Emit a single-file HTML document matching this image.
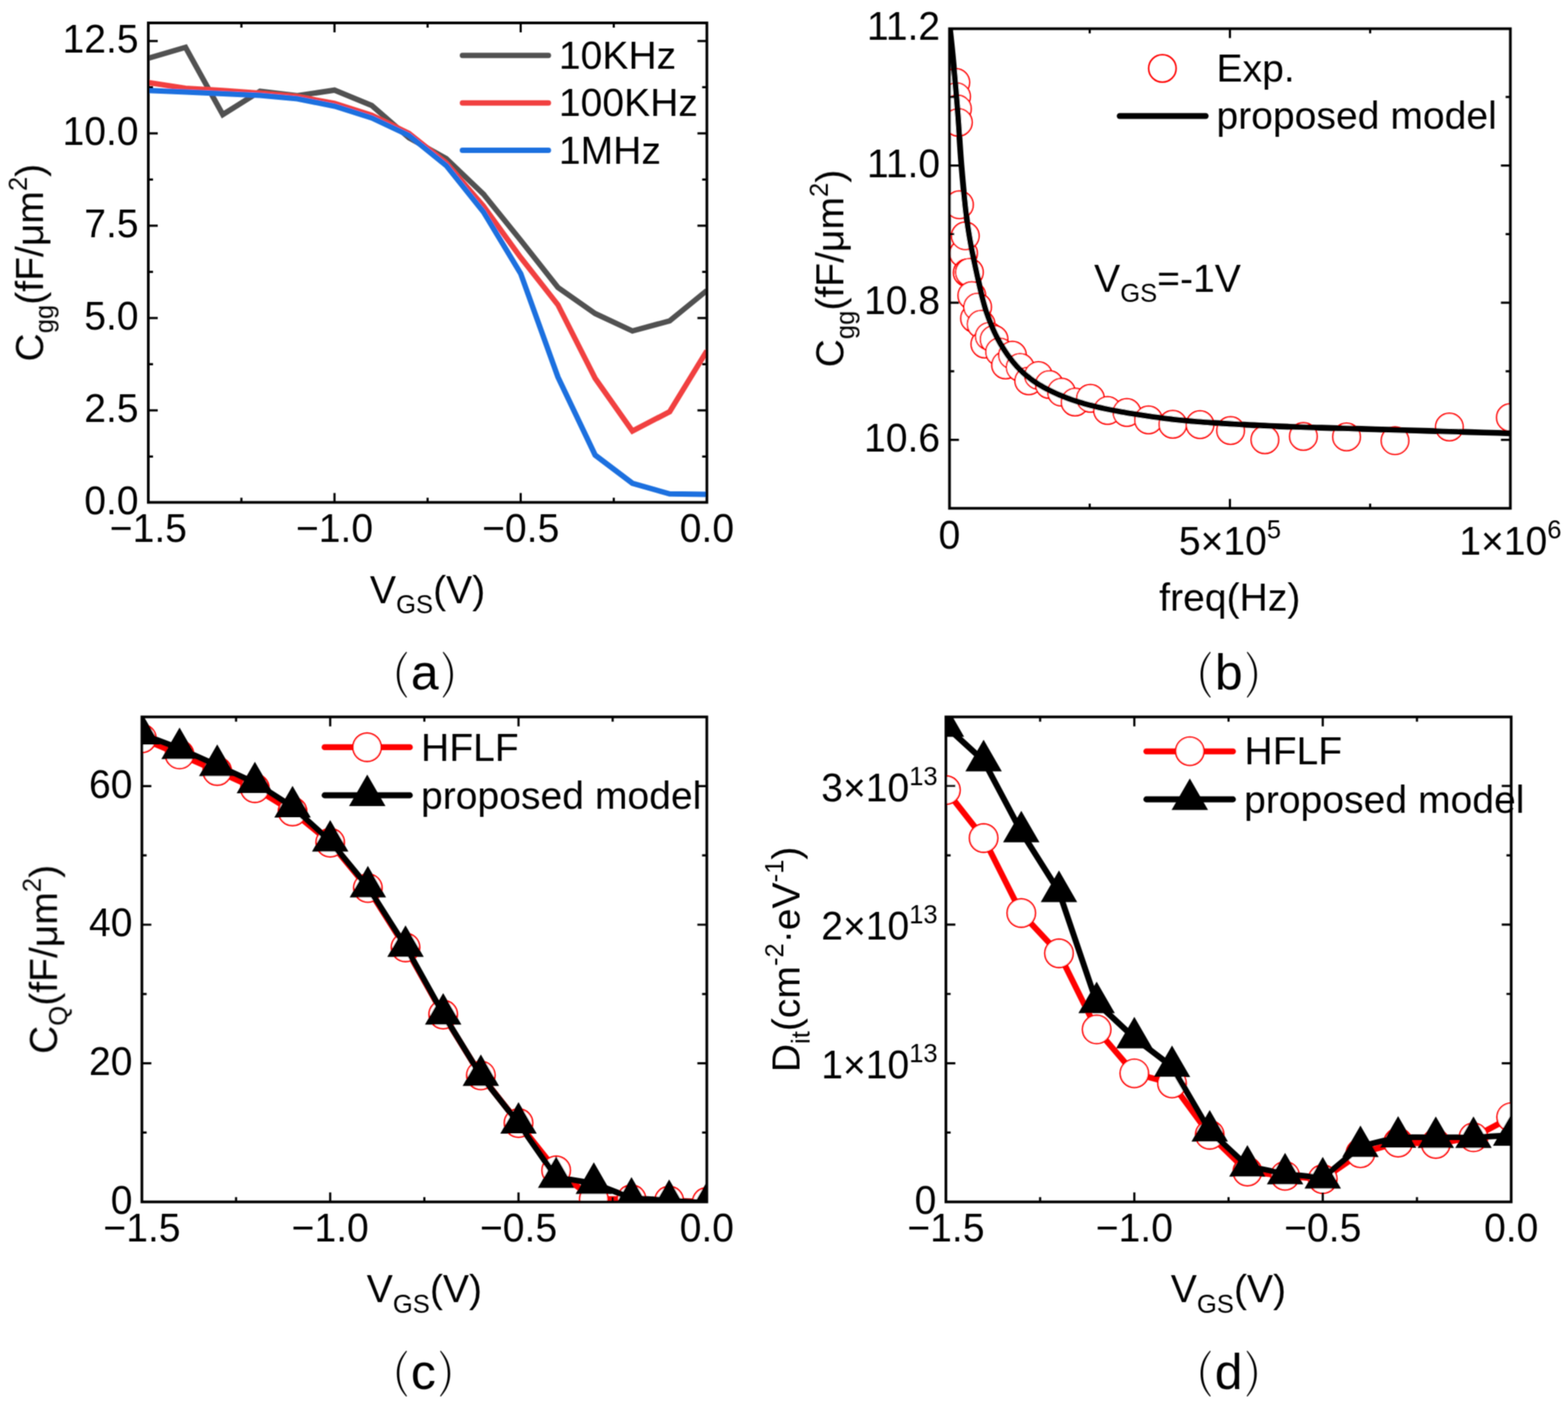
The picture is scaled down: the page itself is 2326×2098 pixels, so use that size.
<!DOCTYPE html>
<html lang="en">
<head>
<meta charset="utf-8">
<title>Figure: Cgg, CQ and Dit versus VGS and frequency</title>
<style>
html,body{margin:0;padding:0;background:#fff}
body{width:2326px;height:2098px;overflow:hidden}
svg{display:block}
</style>
</head>
<body>
<svg width="2326" height="2098" viewBox="0 0 2326 2098" font-family='"Liberation Sans", "DejaVu Sans", sans-serif' fill="#000">
<defs>
<clipPath id="ca"><rect x="220" y="34" width="828.6" height="711.4"/></clipPath>
<clipPath id="cb"><rect x="1408.5" y="42.6" width="832" height="711.6"/></clipPath>
<clipPath id="cc"><rect x="210.5" y="1063.7" width="838" height="719.6"/></clipPath>
<clipPath id="cd"><rect x="1403.2" y="1063.7" width="838.5" height="719.6"/></clipPath>
<filter id="soft" filterUnits="userSpaceOnUse" x="0" y="0" width="2326" height="2098"><feConvolveMatrix order="3" kernelMatrix="1 2 1 2 4 2 1 2 1" divisor="16" edgeMode="duplicate" preserveAlpha="false"/></filter>
</defs>
<rect width="2326" height="2098" fill="#fff"/>
<g filter="url(#soft)">
<g id="plot-a">
<path d="M220 86.5L275.24 70.2L330.48 170L385.72 135.4L440.96 142L496.2 133.7L551.44 156.5L606.68 204.5L661.92 235.3L717.16 288L772.4 356.5L827.64 426.6L882.88 465.2L938.12 491L993.36 476.1L1048.6 431" fill="none" stroke="#515151" stroke-width="8.0" stroke-linejoin="miter" clip-path="url(#ca)"/>
<path d="M220 122.5L275.24 131L330.48 134.3L385.72 138.2L440.96 143.3L496.2 153.3L551.44 171L606.68 198L661.92 242L717.16 305.8L772.4 382L827.64 452.3L882.88 561.4L938.12 639.5L993.36 610.9L1048.6 520.5" fill="none" stroke="#f14040" stroke-width="8.0" stroke-linejoin="miter" clip-path="url(#ca)"/>
<path d="M220 134.2L275.24 136.6L330.48 139.1L385.72 141.6L440.96 146.5L496.2 157.5L551.44 175L606.68 201L661.92 245.6L717.16 314.4L772.4 406L827.64 559.4L882.88 675.3L938.12 717L993.36 732.8L1048.6 733.6" fill="none" stroke="#1a6fdf" stroke-width="8.0" stroke-linejoin="miter" clip-path="url(#ca)"/>
<rect x="220" y="34" width="828.6" height="711.4" fill="none" stroke="#000" stroke-width="4.0"/>
<path d="M496.2 745.4v-14M496.2 34v14M772.4 745.4v-14M772.4 34v14M358.1 745.4v-7M358.1 34v7M634.3 745.4v-7M634.3 34v7M910.5 745.4v-7M910.5 34v7M220 608.8h14M1048.6 608.8h-14M220 471.8h14M1048.6 471.8h-14M220 334.8h14M1048.6 334.8h-14M220 197.8h14M1048.6 197.8h-14M220 60.8h14M1048.6 60.8h-14M220 677.3h7M1048.6 677.3h-7M220 540.3h7M1048.6 540.3h-7M220 403.3h7M1048.6 403.3h-7M220 266.3h7M1048.6 266.3h-7M220 129.3h7M1048.6 129.3h-7" fill="none" stroke="#000" stroke-width="3.2"/>
<text transform="translate(205.5 763.2) scale(1 1.03)" font-size="58" text-anchor="end">0.0</text>
<text transform="translate(205.5 626.2) scale(1 1.03)" font-size="58" text-anchor="end">2.5</text>
<text transform="translate(205.5 489.2) scale(1 1.03)" font-size="58" text-anchor="end">5.0</text>
<text transform="translate(205.5 352.2) scale(1 1.03)" font-size="58" text-anchor="end">7.5</text>
<text transform="translate(205.5 215.2) scale(1 1.03)" font-size="58" text-anchor="end">10.0</text>
<text transform="translate(205.5 78.2) scale(1 1.03)" font-size="58" text-anchor="end">12.5</text>
<text transform="translate(220 804) scale(1 1.03)" font-size="58" text-anchor="middle">−1.5</text>
<text transform="translate(496.2 804) scale(1 1.03)" font-size="58" text-anchor="middle">−1.0</text>
<text transform="translate(772.4 804) scale(1 1.03)" font-size="58" text-anchor="middle">−0.5</text>
<text transform="translate(1048.6 804) scale(1 1.03)" font-size="58" text-anchor="middle">0.0</text>
<text x="634.3" y="894.5" font-size="58" text-anchor="middle">V<tspan font-size="38" dy="15.5">GS</tspan><tspan dy="-15.5">(V)</tspan></text>
<text x="63.5" y="389.7" font-size="58" text-anchor="middle" transform="rotate(-90 63.5 389.7)">C<tspan font-size="38" dy="15.5">gg</tspan><tspan dy="-15.5">(fF/μm</tspan><tspan font-size="38" dy="-23.5">2</tspan><tspan dy="23.5">)</tspan></text>
<path d="M686 82.2H813.5" stroke="#515151" stroke-width="8.0" stroke-linecap="round"/>
<text x="829" y="101.8" font-size="58" text-anchor="start">10KHz</text>
<path d="M686 152.65H813.5" stroke="#f14040" stroke-width="8.0" stroke-linecap="round"/>
<text x="829" y="172.25" font-size="58" text-anchor="start">100KHz</text>
<path d="M686 223.1H813.5" stroke="#1a6fdf" stroke-width="8.0" stroke-linecap="round"/>
<text x="829" y="242.7" font-size="58" text-anchor="start">1MHz</text>
<text font-size="74" y="1023.1"><tspan x="582.4" y="1021.4" font-family="'Noto Serif CJK SC', 'Liberation Serif', serif" font-weight="200" font-size="65.7">(</tspan><tspan x="609.5" y="1023.1">a</tspan><tspan x="655" y="1021.4" font-family="'Noto Serif CJK SC', 'Liberation Serif', serif" font-weight="200" font-size="65.7">)</tspan></text>
</g>
<g id="plot-b">
<g fill="#fff" stroke="#ff0000" stroke-width="2.3" clip-path="url(#cb)">
<circle cx="1417.84" cy="122.3" r="20.4"/>
<circle cx="1418.97" cy="143.3" r="20.4"/>
<circle cx="1420.25" cy="161.4" r="20.4"/>
<circle cx="1421.69" cy="181.5" r="20.4"/>
<circle cx="1423.3" cy="303.8" r="20.4"/>
<circle cx="1429.4" cy="376" r="20.4"/>
<circle cx="1431.95" cy="350" r="20.4"/>
<circle cx="1434.81" cy="404.5" r="20.4"/>
<circle cx="1438.02" cy="404" r="20.4"/>
<circle cx="1441.62" cy="438.4" r="20.4"/>
<circle cx="1445.66" cy="472.4" r="20.4"/>
<circle cx="1450.2" cy="455.5" r="20.4"/>
<circle cx="1455.29" cy="481" r="20.4"/>
<circle cx="1461" cy="510.5" r="20.4"/>
<circle cx="1467.4" cy="499" r="20.4"/>
<circle cx="1474.59" cy="503.5" r="20.4"/>
<circle cx="1482.65" cy="522" r="20.4"/>
<circle cx="1491.7" cy="541.5" r="20.4"/>
<circle cx="1501.85" cy="527" r="20.4"/>
<circle cx="1513.24" cy="545" r="20.4"/>
<circle cx="1526.02" cy="565" r="20.4"/>
<circle cx="1540.36" cy="557.2" r="20.4"/>
<circle cx="1556.45" cy="570.5" r="20.4"/>
<circle cx="1574.51" cy="581.8" r="20.4"/>
<circle cx="1594.76" cy="596.5" r="20.4"/>
<circle cx="1617.49" cy="591" r="20.4"/>
<circle cx="1642.99" cy="609" r="20.4"/>
<circle cx="1671.6" cy="612" r="20.4"/>
<circle cx="1703.7" cy="623" r="20.4"/>
<circle cx="1739.73" cy="629.5" r="20.4"/>
<circle cx="1780.14" cy="630" r="20.4"/>
<circle cx="1825.49" cy="638.7" r="20.4"/>
<circle cx="1876.37" cy="652.5" r="20.4"/>
<circle cx="1933.46" cy="647.5" r="20.4"/>
<circle cx="1997.51" cy="648.2" r="20.4"/>
<circle cx="2069.38" cy="653.8" r="20.4"/>
<circle cx="2150.02" cy="633.5" r="20.4"/>
<circle cx="2240.5" cy="619.5" r="20.4"/>
</g>
<path d="M1408.5 36L1408.88 39.65L1409.27 43.26L1409.65 46.84L1410.03 50.42L1410.42 54L1410.8 57.58L1411.18 61.19L1411.57 64.84L1411.95 68.53L1412.33 72.28L1412.72 76.1L1413.1 80L1413.71 86.29L1414.32 92.66L1414.92 99.1L1415.53 105.63L1416.14 112.27L1416.75 119.02L1417.36 125.88L1417.97 132.88L1418.58 140.02L1419.18 147.32L1419.79 154.77L1420.4 162.4L1420.88 168.75L1421.37 175.49L1421.85 182.52L1422.33 189.77L1422.82 197.16L1423.3 204.59L1423.78 211.99L1424.27 219.27L1424.75 226.34L1425.23 233.13L1425.72 239.54L1426.2 245.5L1426.92 253.88L1427.63 262.09L1428.35 270.1L1429.07 277.9L1429.78 285.46L1430.5 292.77L1431.22 299.8L1431.93 306.53L1432.65 312.93L1433.37 318.99L1434.08 324.69L1434.8 330L1435.87 337.38L1436.93 344.33L1438 350.91L1439.07 357.13L1440.13 363.06L1441.2 368.73L1442.27 374.17L1443.33 379.44L1444.4 384.56L1445.47 389.59L1446.53 394.55L1447.6 399.5L1448.96 405.79L1450.32 412.03L1451.67 418.2L1453.03 424.25L1454.39 430.15L1455.75 435.89L1457.11 441.42L1458.47 446.71L1459.83 451.74L1461.18 456.46L1462.54 460.86L1463.9 464.9L1466.01 470.72L1468.12 476.26L1470.22 481.51L1472.33 486.5L1474.44 491.24L1476.55 495.73L1478.66 500L1480.77 504.06L1482.88 507.92L1484.98 511.58L1487.09 515.07L1489.2 518.4L1491.67 522.14L1494.15 525.73L1496.62 529.17L1499.1 532.46L1501.58 535.62L1504.05 538.64L1506.53 541.52L1509 544.27L1511.47 546.89L1513.95 549.38L1516.42 551.75L1518.9 554L1521.38 556.15L1523.87 558.23L1526.35 560.21L1528.83 562.13L1531.32 563.96L1533.8 565.72L1536.28 567.41L1538.77 569.03L1541.25 570.59L1543.73 572.09L1546.22 573.52L1548.7 574.9L1552.42 576.88L1556.13 578.8L1559.85 580.64L1563.57 582.41L1567.28 584.11L1571 585.74L1574.72 587.31L1578.43 588.81L1582.15 590.25L1585.87 591.63L1589.58 592.94L1593.3 594.2L1597.02 595.4L1600.73 596.57L1604.45 597.68L1608.17 598.76L1611.88 599.8L1615.6 600.8L1619.32 601.76L1623.03 602.69L1626.75 603.59L1630.47 604.46L1634.18 605.29L1637.9 606.1L1642.85 607.14L1647.8 608.14L1652.75 609.1L1657.7 610.03L1662.65 610.93L1667.6 611.8L1672.55 612.64L1677.5 613.45L1682.45 614.25L1687.4 615.02L1692.35 615.77L1697.3 616.5L1702.26 617.22L1707.22 617.94L1712.17 618.64L1717.13 619.33L1722.09 620L1727.05 620.65L1732.01 621.28L1736.97 621.88L1741.92 622.46L1746.88 623L1751.84 623.52L1756.8 624L1761.76 624.45L1766.72 624.88L1771.67 625.3L1776.63 625.69L1781.59 626.08L1786.55 626.44L1791.51 626.79L1796.47 627.13L1801.42 627.46L1806.38 627.78L1811.34 628.1L1816.3 628.4L1823.73 628.85L1831.17 629.28L1838.6 629.71L1846.03 630.12L1853.47 630.52L1860.9 630.9L1868.33 631.27L1875.77 631.63L1883.2 631.97L1890.63 632.3L1898.07 632.61L1905.5 632.9L1913.38 633.19L1921.25 633.47L1929.12 633.73L1937 633.98L1944.88 634.21L1952.75 634.45L1960.62 634.67L1968.5 634.89L1976.38 635.12L1984.25 635.34L1992.12 635.57L2000 635.8L2020.04 636.4L2040.08 637L2060.12 637.6L2080.17 638.19L2100.21 638.78L2120.25 639.37L2140.29 639.96L2160.33 640.55L2180.38 641.13L2200.42 641.72L2220.46 642.31L2240.5 642.9" fill="none" stroke="#000" stroke-width="8.6" stroke-linejoin="round" clip-path="url(#cb)"/>
<rect x="1408.5" y="42.6" width="832" height="711.6" fill="none" stroke="#000" stroke-width="4.0"/>
<path d="M1824.5 754.2v-14M1824.5 42.6v14M1616.5 754.2v-7M1616.5 42.6v7M2032.5 754.2v-7M2032.5 42.6v7M1408.5 652.7h14M2240.5 652.7h-14M1408.5 449.2h14M2240.5 449.2h-14M1408.5 245.7h14M2240.5 245.7h-14M1408.5 550.95h7M2240.5 550.95h-7M1408.5 347.45h7M2240.5 347.45h-7M1408.5 143.95h7M2240.5 143.95h-7" fill="none" stroke="#000" stroke-width="3.2"/>
<text transform="translate(1394.5 669.9) scale(1 1.03)" font-size="58" text-anchor="end">10.6</text>
<text transform="translate(1394.5 466.4) scale(1 1.03)" font-size="58" text-anchor="end">10.8</text>
<text transform="translate(1394.5 262.9) scale(1 1.03)" font-size="58" text-anchor="end">11.0</text>
<text transform="translate(1394.5 59.4) scale(1 1.03)" font-size="58" text-anchor="end">11.2</text>
<text transform="translate(1408.5 813.8) scale(1 1.03)" font-size="58" text-anchor="middle">0</text>
<text transform="translate(1824.5 823) scale(1 1.03)" font-size="58" text-anchor="middle">5×10<tspan font-size="38" dy="-23.5">5</tspan></text>
<text transform="translate(2240.5 823) scale(1 1.03)" font-size="58" text-anchor="middle">1×10<tspan font-size="38" dy="-23.5">6</tspan></text>
<text x="1824.3" y="906.3" font-size="58" text-anchor="middle">freq(Hz)</text>
<text x="1251.4" y="398.4" font-size="58" text-anchor="middle" transform="rotate(-90 1251.4 398.4)">C<tspan font-size="38" dy="15.5">gg</tspan><tspan dy="-15.5">(fF/μm</tspan><tspan font-size="38" dy="-23.5">2</tspan><tspan dy="23.5">)</tspan></text>
<text x="1623" y="432.8" font-size="58" text-anchor="start">V<tspan font-size="38" dy="15.5">GS</tspan><tspan dy="-15.5">=-1V</tspan></text>
<circle cx="1724.3" cy="101.5" r="20.4" fill="none" stroke="#ff0000" stroke-width="2.3"/>
<path d="M1661 172.1H1788.5" stroke="#000" stroke-width="8.8" stroke-linecap="round"/>
<text x="1804.5" y="120.7" font-size="58" text-anchor="start">Exp.</text>
<text x="1804.5" y="191.4" font-size="58" text-anchor="start">proposed model</text>
<text font-size="74" y="1023.1"><tspan x="1774.8" y="1021.4" font-family="'Noto Serif CJK SC', 'Liberation Serif', serif" font-weight="200" font-size="65.7">(</tspan><tspan x="1802.3" y="1023.1">b</tspan><tspan x="1847.8" y="1021.4" font-family="'Noto Serif CJK SC', 'Liberation Serif', serif" font-weight="200" font-size="65.7">)</tspan></text>
</g>
<g id="plot-c">
<path d="M210.5 1095.6L266.37 1119.4L322.23 1144L378.1 1169.5L433.97 1204L489.83 1250.2L545.7 1317.6L601.57 1405.8L657.43 1505.3L713.3 1595.6L769.17 1666.3L825.03 1736.5L880.9 1779L936.77 1779.3L992.63 1781.3L1048.5 1783.2" fill="none" stroke="#ff0000" stroke-width="8.8" stroke-linejoin="round" clip-path="url(#cc)"/>
<g fill="#fff" stroke="#ff0000" stroke-width="2.4" clip-path="url(#cc)">
<circle cx="210.5" cy="1095.6" r="21"/>
<circle cx="266.37" cy="1119.4" r="21"/>
<circle cx="322.23" cy="1144" r="21"/>
<circle cx="378.1" cy="1169.5" r="21"/>
<circle cx="433.97" cy="1204" r="21"/>
<circle cx="489.83" cy="1250.2" r="21"/>
<circle cx="545.7" cy="1317.6" r="21"/>
<circle cx="601.57" cy="1405.8" r="21"/>
<circle cx="657.43" cy="1505.3" r="21"/>
<circle cx="713.3" cy="1595.6" r="21"/>
<circle cx="769.17" cy="1666.3" r="21"/>
<circle cx="825.03" cy="1736.5" r="21"/>
<circle cx="880.9" cy="1779" r="21"/>
<circle cx="936.77" cy="1779.3" r="21"/>
<circle cx="992.63" cy="1781.3" r="21"/>
<circle cx="1048.5" cy="1783.2" r="21"/>
</g>
<path d="M210.5 1089.4L266.37 1110.7L322.23 1135.8L378.1 1161.4L433.97 1197.3L489.83 1248L545.7 1316L601.57 1404.2L657.43 1504.6L713.3 1595.7L769.17 1666.4L825.03 1746.8L880.9 1755.8L936.77 1777.7L992.63 1781.2L1048.5 1784.6" fill="none" stroke="#000" stroke-width="8.8" stroke-linejoin="round" clip-path="url(#cc)"/>
<path d="M210.5 1058.2L237.52 1105H183.48ZM266.37 1079.5L293.39 1126.3H239.35ZM322.23 1104.6L349.25 1151.4H295.21ZM378.1 1130.2L405.12 1177H351.08ZM433.97 1166.1L460.99 1212.9H406.95ZM489.83 1216.8L516.85 1263.6H462.81ZM545.7 1284.8L572.72 1331.6H518.68ZM601.57 1373L628.59 1419.8H574.55ZM657.43 1473.4L684.45 1520.2H630.41ZM713.3 1564.5L740.32 1611.3H686.28ZM769.17 1635.2L796.19 1682H742.15ZM825.03 1715.6L852.05 1762.4H798.01ZM880.9 1724.6L907.92 1771.4H853.88ZM936.77 1746.5L963.79 1793.3H909.75ZM992.63 1750L1019.65 1796.8H965.61ZM1048.5 1753.4L1075.52 1800.2H1021.48Z" fill="#000" clip-path="url(#cc)"/>
<rect x="210.5" y="1063.7" width="838" height="719.6" fill="none" stroke="#000" stroke-width="4.0"/>
<path d="M489.83 1783.3v-14M489.83 1063.7v14M769.17 1783.3v-14M769.17 1063.7v14M350.17 1783.3v-7M350.17 1063.7v7M629.5 1783.3v-7M629.5 1063.7v7M908.83 1783.3v-7M908.83 1063.7v7M210.5 1577.64h14M1048.5 1577.64h-14M210.5 1371.98h14M1048.5 1371.98h-14M210.5 1166.32h14M1048.5 1166.32h-14M210.5 1680.47h7M1048.5 1680.47h-7M210.5 1474.81h7M1048.5 1474.81h-7M210.5 1269.15h7M1048.5 1269.15h-7" fill="none" stroke="#000" stroke-width="3.2"/>
<text transform="translate(196.5 1800.5) scale(1 1.03)" font-size="58" text-anchor="end">0</text>
<text transform="translate(196.5 1594.84) scale(1 1.03)" font-size="58" text-anchor="end">20</text>
<text transform="translate(196.5 1389.18) scale(1 1.03)" font-size="58" text-anchor="end">40</text>
<text transform="translate(196.5 1183.52) scale(1 1.03)" font-size="58" text-anchor="end">60</text>
<text transform="translate(210.5 1841.8) scale(1 1.03)" font-size="58" text-anchor="middle">−1.5</text>
<text transform="translate(489.83 1841.8) scale(1 1.03)" font-size="58" text-anchor="middle">−1.0</text>
<text transform="translate(769.17 1841.8) scale(1 1.03)" font-size="58" text-anchor="middle">−0.5</text>
<text transform="translate(1048.5 1841.8) scale(1 1.03)" font-size="58" text-anchor="middle">0.0</text>
<text x="629.5" y="1932" font-size="58" text-anchor="middle">V<tspan font-size="38" dy="15.5">GS</tspan><tspan dy="-15.5">(V)</tspan></text>
<text x="84" y="1423.5" font-size="58" text-anchor="middle" transform="rotate(-90 84 1423.5)">C<tspan font-size="38" dy="15.5">Q</tspan><tspan dy="-15.5">(fF/μm</tspan><tspan font-size="38" dy="-23.5">2</tspan><tspan dy="23.5">)</tspan></text>
<path d="M481.5 1108.7H608" stroke="#ff0000" stroke-width="8.8" stroke-linecap="round"/>
<circle cx="544.5" cy="1108.7" r="21" fill="#fff" stroke="#ff0000" stroke-width="2.4"/>
<path d="M481.5 1180H608" stroke="#000" stroke-width="8.8" stroke-linecap="round"/>
<path d="M544.8 1149.3L571.82 1196.1H517.78Z" fill="#000"/>
<text x="624.5" y="1128.5" font-size="58" text-anchor="start">HFLF</text>
<text x="624.5" y="1200.3" font-size="58" text-anchor="start">proposed model</text>
<text font-size="74" y="2060.9"><tspan x="582.4" y="2057.8" font-family="'Noto Serif CJK SC', 'Liberation Serif', serif" font-weight="200" font-size="65.7">(</tspan><tspan x="609.5" y="2060.9">c</tspan><tspan x="651" y="2057.8" font-family="'Noto Serif CJK SC', 'Liberation Serif', serif" font-weight="200" font-size="65.7">)</tspan></text>
</g>
<g id="plot-d">
<path d="M1403.2 1172.3L1459.1 1243.5L1515 1354.7L1570.9 1414.5L1626.8 1527.4L1682.7 1592.6L1738.6 1607.6L1794.5 1683.8L1850.4 1738.3L1906.3 1744.6L1962.2 1749.5L2018.1 1711.1L2074 1695.2L2129.9 1697.2L2185.8 1687.4L2241.7 1657.6" fill="none" stroke="#ff0000" stroke-width="8.8" stroke-linejoin="round" clip-path="url(#cd)"/>
<g fill="#fff" stroke="#ff0000" stroke-width="2.4" clip-path="url(#cd)">
<circle cx="1403.2" cy="1172.3" r="21"/>
<circle cx="1459.1" cy="1243.5" r="21"/>
<circle cx="1515" cy="1354.7" r="21"/>
<circle cx="1570.9" cy="1414.5" r="21"/>
<circle cx="1626.8" cy="1527.4" r="21"/>
<circle cx="1682.7" cy="1592.6" r="21"/>
<circle cx="1738.6" cy="1607.6" r="21"/>
<circle cx="1794.5" cy="1683.8" r="21"/>
<circle cx="1850.4" cy="1738.3" r="21"/>
<circle cx="1906.3" cy="1744.6" r="21"/>
<circle cx="1962.2" cy="1749.5" r="21"/>
<circle cx="2018.1" cy="1711.1" r="21"/>
<circle cx="2074" cy="1695.2" r="21"/>
<circle cx="2129.9" cy="1697.2" r="21"/>
<circle cx="2185.8" cy="1687.4" r="21"/>
<circle cx="2241.7" cy="1657.6" r="21"/>
</g>
<path d="M1403.2 1077.6L1459.1 1128.8L1515 1234.1L1570.9 1322.8L1626.8 1487.7L1682.7 1539.9L1738.6 1582.5L1794.5 1678.1L1850.4 1730.2L1906.3 1741.7L1962.2 1747.8L2018.1 1701.1L2074 1687.3L2129.9 1687.6L2185.8 1687.6L2241.7 1684.4" fill="none" stroke="#000" stroke-width="8.8" stroke-linejoin="round" clip-path="url(#cd)"/>
<path d="M1403.2 1046.4L1430.22 1093.2H1376.18ZM1459.1 1097.6L1486.12 1144.4H1432.08ZM1515 1202.9L1542.02 1249.7H1487.98ZM1570.9 1291.6L1597.92 1338.4H1543.88ZM1626.8 1456.5L1653.82 1503.3H1599.78ZM1682.7 1508.7L1709.72 1555.5H1655.68ZM1738.6 1551.3L1765.62 1598.1H1711.58ZM1794.5 1646.9L1821.52 1693.7H1767.48ZM1850.4 1699L1877.42 1745.8H1823.38ZM1906.3 1710.5L1933.32 1757.3H1879.28ZM1962.2 1716.6L1989.22 1763.4H1935.18ZM2018.1 1669.9L2045.12 1716.7H1991.08ZM2074 1656.1L2101.02 1702.9H2046.98ZM2129.9 1656.4L2156.92 1703.2H2102.88ZM2185.8 1656.4L2212.82 1703.2H2158.78ZM2241.7 1653.2L2268.72 1700H2214.68Z" fill="#000" clip-path="url(#cd)"/>
<rect x="1403.2" y="1063.7" width="838.5" height="719.6" fill="none" stroke="#000" stroke-width="4.0"/>
<path d="M1682.7 1783.3v-14M1682.7 1063.7v14M1962.2 1783.3v-14M1962.2 1063.7v14M1542.95 1783.3v-7M1542.95 1063.7v7M1822.45 1783.3v-7M1822.45 1063.7v7M2101.95 1783.3v-7M2101.95 1063.7v7M1403.2 1577.6h14M2241.7 1577.6h-14M1403.2 1371.9h14M2241.7 1371.9h-14M1403.2 1166.2h14M2241.7 1166.2h-14M1403.2 1680.45h7M2241.7 1680.45h-7M1403.2 1474.75h7M2241.7 1474.75h-7M1403.2 1269.05h7M2241.7 1269.05h-7" fill="none" stroke="#000" stroke-width="3.2"/>
<text transform="translate(1389 1800.5) scale(1 1.03)" font-size="58" text-anchor="end">0</text>
<text transform="translate(1391 1600.2) scale(1 1.03)" font-size="58" text-anchor="end">1×10<tspan font-size="38" dy="-23.5">13</tspan></text>
<text transform="translate(1391 1394.5) scale(1 1.03)" font-size="58" text-anchor="end">2×10<tspan font-size="38" dy="-23.5">13</tspan></text>
<text transform="translate(1391 1188.8) scale(1 1.03)" font-size="58" text-anchor="end">3×10<tspan font-size="38" dy="-23.5">13</tspan></text>
<text transform="translate(1403.2 1841.8) scale(1 1.03)" font-size="58" text-anchor="middle">−1.5</text>
<text transform="translate(1682.7 1841.8) scale(1 1.03)" font-size="58" text-anchor="middle">−1.0</text>
<text transform="translate(1962.2 1841.8) scale(1 1.03)" font-size="58" text-anchor="middle">−0.5</text>
<text transform="translate(2241.7 1841.8) scale(1 1.03)" font-size="58" text-anchor="middle">0.0</text>
<text x="1822.3" y="1932" font-size="58" text-anchor="middle">V<tspan font-size="38" dy="15.5">GS</tspan><tspan dy="-15.5">(V)</tspan></text>
<text x="1185.5" y="1423.5" font-size="58" text-anchor="middle" transform="rotate(-90 1185.5 1423.5)">D<tspan font-size="38" dy="15.5">it</tspan><tspan dy="-15.5">(cm</tspan><tspan font-size="38" dy="-23.5">-2</tspan><tspan dy="23.5">·eV</tspan><tspan font-size="38" dy="-23.5">-1</tspan><tspan dy="23.5">)</tspan></text>
<path d="M1700.5 1114.8H1829" stroke="#ff0000" stroke-width="8.8" stroke-linecap="round"/>
<circle cx="1765" cy="1114.6" r="21" fill="#fff" stroke="#ff0000" stroke-width="2.4"/>
<path d="M1700.5 1186H1829" stroke="#000" stroke-width="8.8" stroke-linecap="round"/>
<path d="M1765 1154.9L1792.02 1201.7H1737.98Z" fill="#000"/>
<text x="1846" y="1134.3" font-size="58" text-anchor="start">HFLF</text>
<text x="1845.5" y="1205.8" font-size="58" text-anchor="start">proposed model</text>
<text font-size="74" y="2060.9"><tspan x="1774.8" y="2057.8" font-family="'Noto Serif CJK SC', 'Liberation Serif', serif" font-weight="200" font-size="65.7">(</tspan><tspan x="1802" y="2060.9">d</tspan><tspan x="1847.4" y="2057.8" font-family="'Noto Serif CJK SC', 'Liberation Serif', serif" font-weight="200" font-size="65.7">)</tspan></text>
</g>
</g>
</svg>
</body>
</html>
